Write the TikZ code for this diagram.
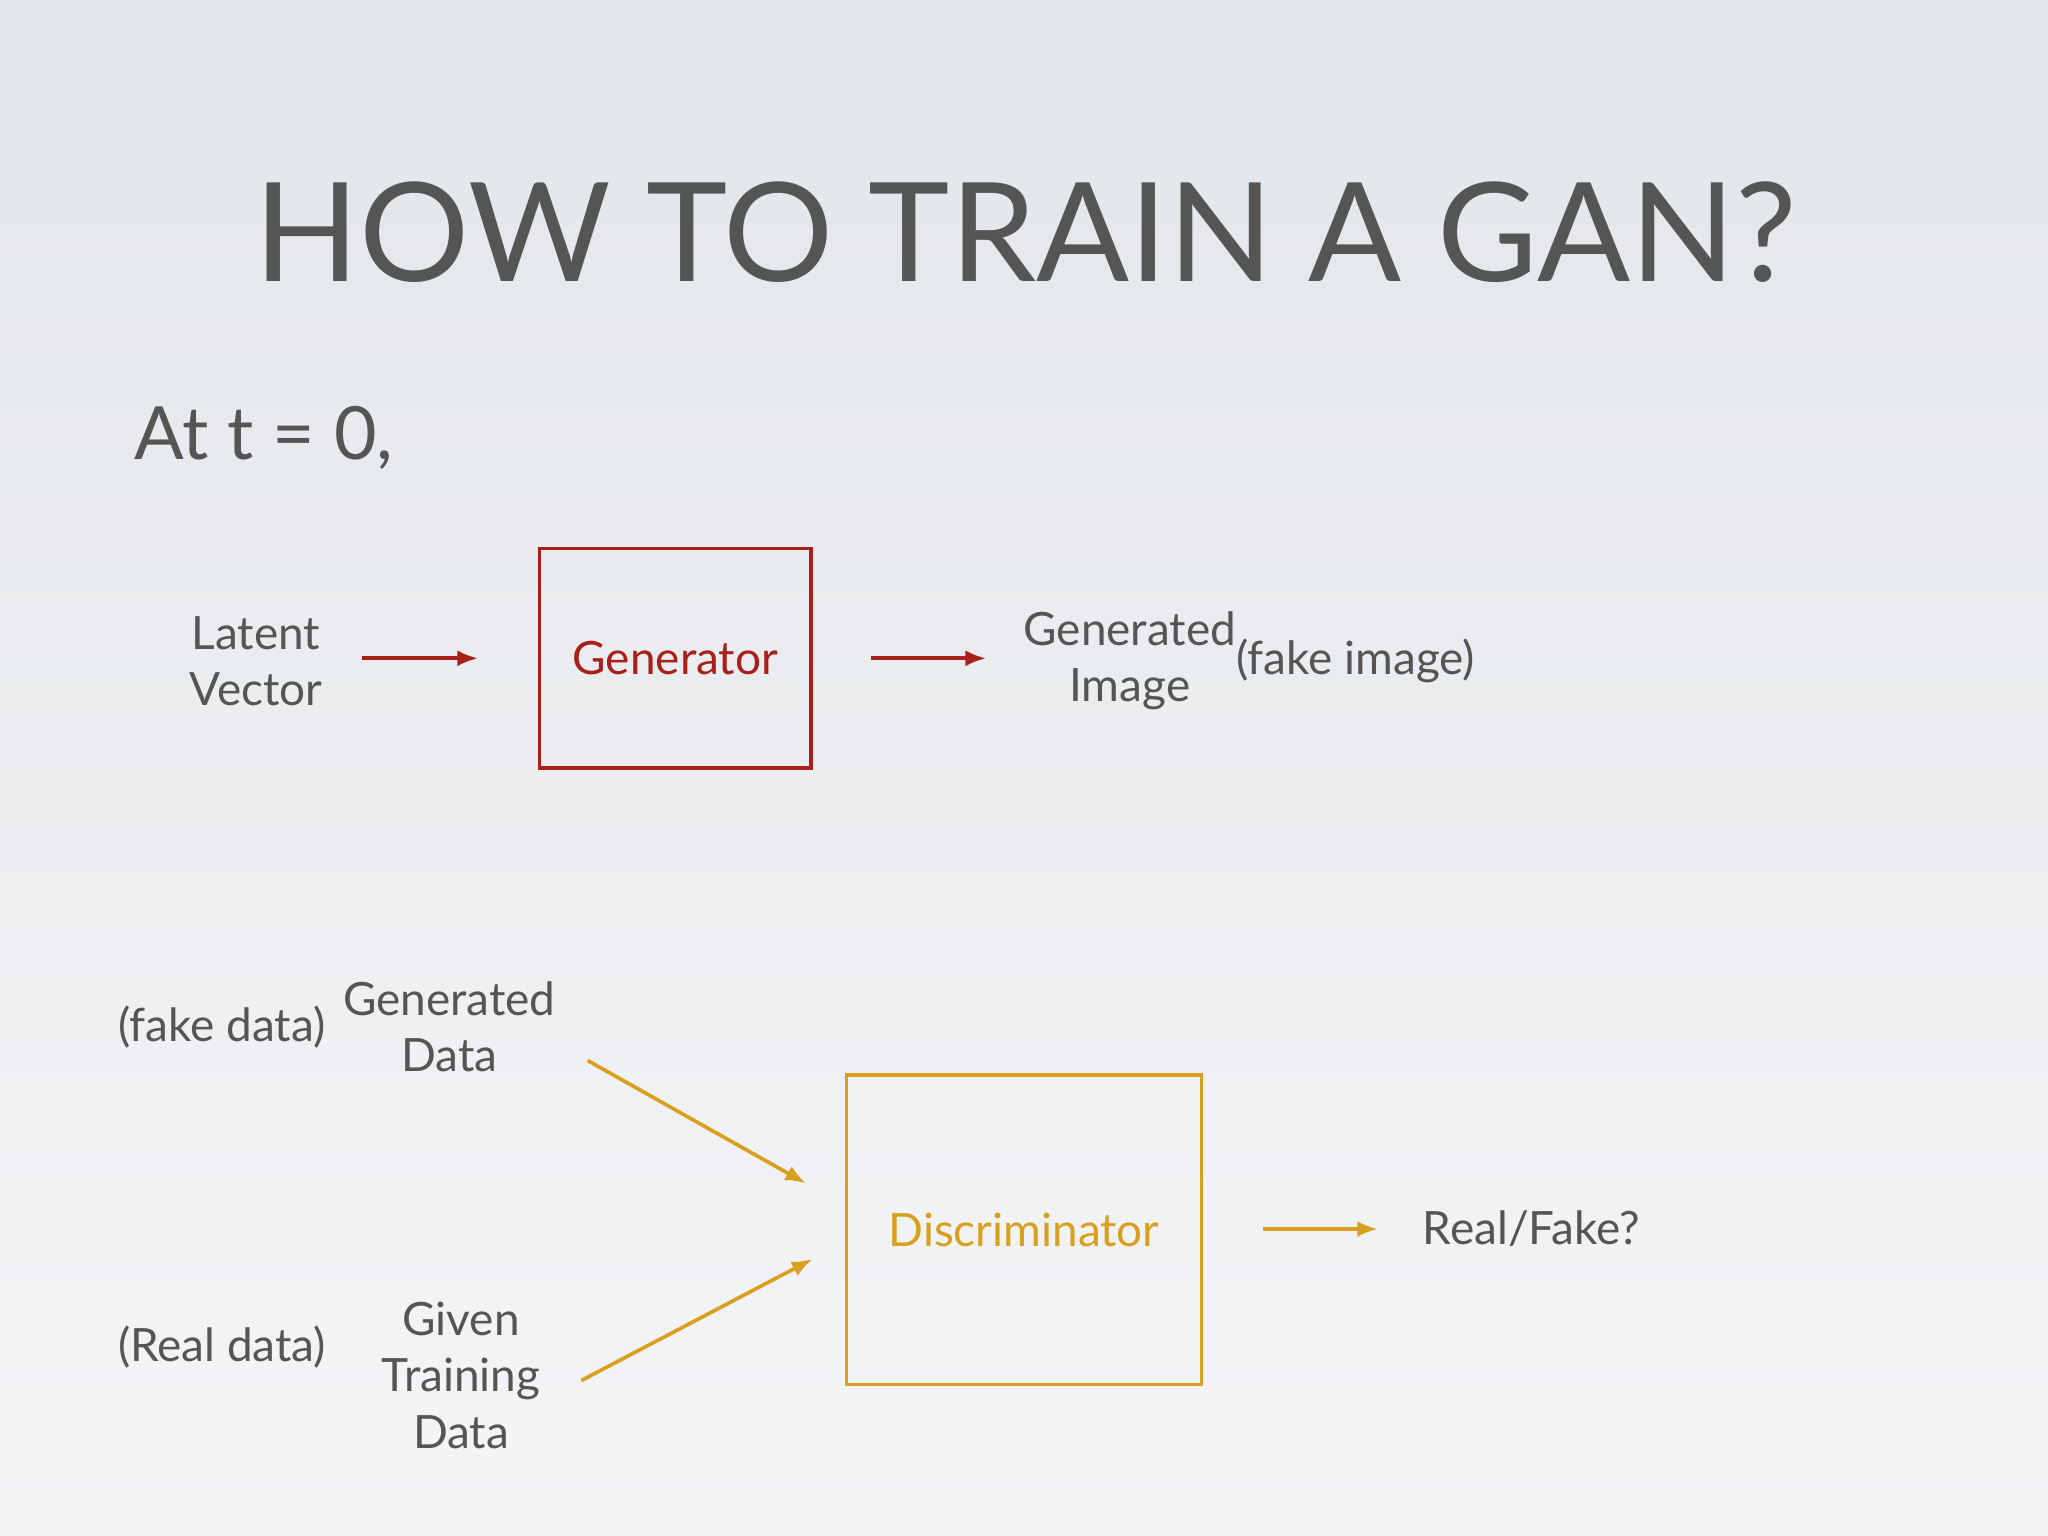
\documentclass[tikz,border=0pt]{standalone}
\usepackage{fontspec}
\setmainfont{Lato}
\usetikzlibrary{arrows.meta}
\definecolor{txt}{HTML}{555555}
\definecolor{gred}{HTML}{A8201A}
\definecolor{dorg}{HTML}{D9A020}
\definecolor{bgtop}{HTML}{E3E6E9}
\definecolor{bgbot}{HTML}{F4F5F7}
\begin{document}
\begin{tikzpicture}[x=0.02cm,y=-0.02cm,
  lbl/.style={text=txt,font=\fontsize{20}{24.5}\selectfont,align=center,inner sep=0},
  boxst/.style={draw=#1,line width=1.6pt,inner sep=0},
  rarr/.style={gred,line width=1.6pt,-{Latex[length=9pt,width=7pt]}},
  oarr/.style={dorg,line width=1.6pt,-{Latex[length=9pt,width=7pt]}}]
\shade[top color=bgtop,bottom color=bgbot] (0,0) rectangle (1568,1176);
\useasboundingbox (0,0) rectangle (1568,1176);
\node[text=txt,font=\fontsize{60}{64}\selectfont] (title) at (785,178) {HOW TO TRAIN A GAN?};
\node[text=txt,font=\fontsize{32}{36}\selectfont,anchor=west,inner sep=0] (att) at (103,335) {At t = 0,};
% generator row
\node[lbl] (lat) at (196,506) {Latent\\Vector};
\node[boxst=gred,minimum width=4.16cm,minimum height=3.36cm,text=gred,font=\fontsize{20}{24}\selectfont] (gen) at (517,504) {Generator};
\coordinate (a1s) at (277,504); \coordinate (a1e) at (366,504);
\draw[rarr] (a1s) -- (a1e);
\coordinate (a2s) at (667,504); \coordinate (a2e) at (755,504);
\draw[rarr] (a2s) -- (a2e);
\node[lbl] (gimg) at (865,506) {Generated\\Image};
\node[lbl] (fimg) at (1038,506) {(fake image)};
% discriminator
\node[boxst=dorg,minimum width=5.44cm,minimum height=4.74cm,text=dorg,font=\fontsize{20}{24}\selectfont] (disc) at (784,941.5) {Discriminator};
\node[lbl] (fdat) at (170,786) {(fake data)};
\node[lbl] (gdat) at (344,786) {Generated\\Data};
\node[lbl] (rdat) at (170,1031) {(Real data)};
\node[lbl] (gtd) at (353,1053) {Given\\Training\\Data};
\coordinate (b1s) at (450,812); \coordinate (b1e) at (617,906);
\draw[oarr] (b1s) -- (b1e);
\coordinate (b2s) at (445,1057); \coordinate (b2e) at (622,964);
\draw[oarr] (b2s) -- (b2e);
\coordinate (b3s) at (967,941); \coordinate (b3e) at (1055,941);
\draw[oarr] (b3s) -- (b3e);
\node[lbl,anchor=west] (rf) at (1089,941) {Real/Fake?};
\end{tikzpicture}
\end{document}
